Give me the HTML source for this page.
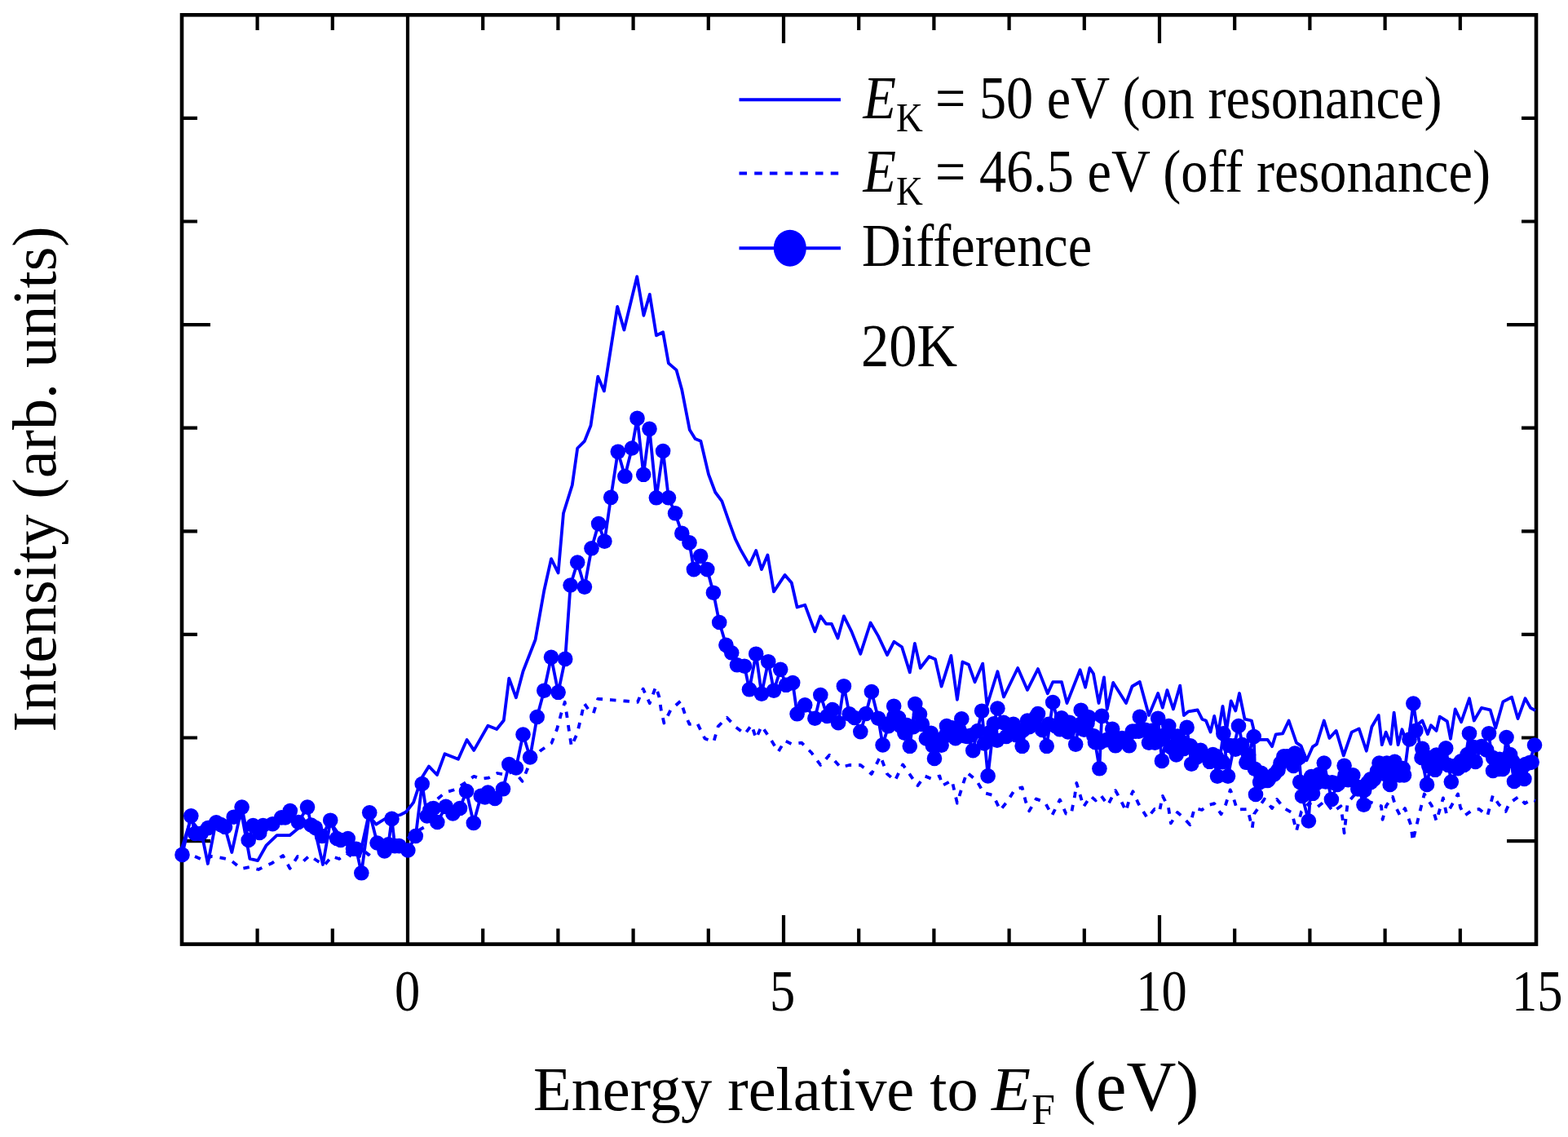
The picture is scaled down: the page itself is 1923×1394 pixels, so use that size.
<!DOCTYPE html>
<html><head><meta charset="utf-8"><title>Resonant photoemission spectra</title>
<style>html,body{margin:0;padding:0;background:#fff;}svg{display:block;}
text{font-family:'Liberation Serif', 'Times New Roman', serif;fill:#000;}</style></head>
<body><svg width="1923" height="1394" viewBox="0 0 1923 1394">
<rect width="1923" height="1394" fill="#fff"/>
<path d="M315.6 1157.6V1138.5M315.6 18.3V37.0M407.8 1157.6V1138.5M407.8 18.3V37.0M592.2 1157.6V1138.5M592.2 18.3V37.0M684.4 1157.6V1138.5M684.4 18.3V37.0M776.6 1157.6V1138.5M776.6 18.3V37.0M868.8 1157.6V1138.5M868.8 18.3V37.0M961.0 1157.6V1122.0M961.0 18.3V53.0M1053.2 1157.6V1138.5M1053.2 18.3V37.0M1145.4 1157.6V1138.5M1145.4 18.3V37.0M1237.6 1157.6V1138.5M1237.6 18.3V37.0M1329.8 1157.6V1138.5M1329.8 18.3V37.0M1422.0 1157.6V1122.0M1422.0 18.3V53.0M1514.2 1157.6V1138.5M1514.2 18.3V37.0M1606.4 1157.6V1138.5M1606.4 18.3V37.0M1698.6 1157.6V1138.5M1698.6 18.3V37.0M1790.8 1157.6V1138.5M1790.8 18.3V37.0M223.0 144.9H242.0M1884.0 144.9H1866.0M223.0 271.5H242.0M1884.0 271.5H1866.0M223.0 398.1H258.0M1884.0 398.1H1848.0M223.0 524.7H242.0M1884.0 524.7H1866.0M223.0 651.3H242.0M1884.0 651.3H1866.0M223.0 777.9H242.0M1884.0 777.9H1866.0M223.0 904.5H242.0M1884.0 904.5H1866.0M223.0 1031.1H258.0M1884.0 1031.1H1848.0" stroke="#000" stroke-width="4.2" fill="none"/>
<line x1="500.0" y1="18.3" x2="500.0" y2="1157.6" stroke="#000" stroke-width="4.2"/>
<rect x="223.0" y="18.3" width="1661.0" height="1139.3" fill="none" stroke="#000" stroke-width="4.6"/>
<g>
<polyline points="223.0,1050.0 232.0,1052.0 239.0,1050.0 250.0,1055.0 259.0,1050.0 268.0,1051.0 282.0,1054.0 296.0,1065.0 306.0,1063.0 317.0,1066.0 325.0,1062.0 333.0,1058.6 347.0,1049.0 355.6,1064.8 365.0,1050.0 372.0,1056.0 379.5,1049.0 390.0,1056.0 398.0,1060.6 407.0,1050.0 416.0,1053.0 425.0,1046.0 434.0,1052.0 443.0,1040.0 452.0,1048.0 461.0,1035.0 470.0,1042.0 480.0,1036.0 490.0,1030.0 500.0,1028.0 510.0,1020.0 521.0,1013.8 527.0,985.0 536.0,980.0 546.0,971.6 558.0,968.0 570.0,960.0 581.2,951.8 590.0,955.0 599.3,953.6 610.0,948.0 620.0,950.0 630.0,945.0 640.6,957.9 650.0,935.0 663.0,920.3 676.5,910.9 683.3,893.3 688.0,875.7 692.7,860.8 695.4,878.4 698.1,897.4 700.8,914.9 707.6,900.0 712.3,881.1 716.4,862.2 723.8,873.0 727.9,874.4 733.3,856.8 749.5,858.1 767.1,859.5 782.0,860.8 788.7,844.6 796.8,862.2 804.3,841.9 808.3,854.1 811.0,871.7 814.4,886.5 822.5,870.3 834.7,859.5 840.1,875.7 845.5,887.9 855.0,886.5 864.4,905.5 875.3,909.5 880.7,890.6 891.5,879.8 902.7,891.6 913.6,899.8 921.8,888.9 927.2,905.3 934.0,890.3 943.6,903.9 954.5,921.6 962.6,908.0 970.8,912.1 983.1,910.7 995.4,923.0 1006.3,938.0 1017.2,925.7 1030.8,940.7 1041.7,938.0 1055.3,938.0 1068.9,948.9 1079.8,927.1 1088.0,948.9 1097.6,957.0 1107.2,937.4 1114.8,948.2 1125.5,963.2 1134.1,951.4 1143.0,955.0 1152.4,951.4 1155.6,963.2 1167.5,956.8 1173.9,984.7 1180.4,963.2 1185.8,947.1 1197.6,956.8 1206.2,971.8 1218.1,975.1 1226.7,993.4 1235.3,982.6 1245.0,967.5 1253.6,965.4 1257.9,982.6 1262.2,994.4 1270.8,979.4 1281.6,983.7 1290.2,999.8 1299.9,980.4 1307.4,997.7 1313.8,997.7 1318.2,975.1 1320.3,960.0 1328.9,989.0 1337.5,976.1 1343.7,981.4 1350.0,975.0 1358.7,987.0 1368.0,969.3 1374.0,980.0 1381.0,994.5 1385.0,980.0 1389.4,970.2 1396.0,985.0 1407.1,1002.9 1416.0,992.0 1422.0,995.0 1425.8,975.8 1433.0,990.0 1436.0,1009.4 1444.0,996.0 1452.0,1003.0 1459.4,1011.3 1465.0,990.8 1474.0,993.0 1482.0,987.0 1489.2,985.2 1497.6,998.2 1503.0,987.0 1508.8,968.4 1512.0,976.0 1517.2,992.6 1530.0,992.0 1535.8,1015.0 1538.0,998.0 1550.8,979.6 1560.0,991.0 1566.0,980.0 1575.0,991.0 1584.3,996.4 1590.0,1018.7 1596.0,995.0 1605.0,985.0 1615.0,990.0 1625.0,982.0 1635.0,995.0 1644.5,988.3 1646.9,1006.5 1648.6,1021.3 1652.7,984.2 1667.0,968.0 1675.8,981.7 1685.0,985.0 1694.0,988.3 1695.6,1004.8 1700.0,988.0 1708.0,976.8 1712.0,990.0 1717.1,999.9 1723.0,991.0 1730.3,1011.4 1732.7,1031.2 1741.8,993.3 1746.8,973.5 1756.0,988.0 1761.6,1006.5 1769.9,978.4 1774.0,998.2 1780.0,988.0 1788.0,973.5 1791.0,990.0 1796.3,999.9 1806.0,993.0 1814.0,992.0 1824.3,999.9 1830.9,975.1 1838.0,986.0 1846.6,994.9 1851.0,985.0 1862.3,976.8 1870.0,985.0 1878.8,980.1 1883.0,982.0" fill="none" stroke="#0000ff" stroke-width="3.8" stroke-dasharray="7.5 9" stroke-linejoin="round"/>
<polyline points="223.0,1040.0 233.8,1005.0 247.4,1022.0 254.9,1059.0 264.7,1008.0 276.0,1015.0 284.3,1045.0 295.6,994.0 306.4,1052.8 316.1,1055.1 326.7,1036.3 339.5,1024.2 355.3,1024.2 373.4,1009.2 386.0,1017.0 396.0,1060.0 405.0,1008.0 417.0,1025.0 430.0,1030.0 441.0,1050.0 452.0,1000.0 461.4,1010.7 472.0,1004.0 480.0,1001.7 491.0,999.0 498.0,995.5 507.1,983.8 517.0,954.0 526.0,939.5 536.0,950.0 545.5,924.2 562.0,930.7 572.6,907.0 581.2,919.9 598.4,889.7 609.2,894.0 617.8,883.3 624.3,831.6 632.9,855.3 641.5,823.0 656.6,784.2 667.3,724.0 676.0,685.2 684.6,702.4 691.0,629.2 701.8,594.7 708.2,549.5 716.9,540.9 724.5,521.7 733.3,461.7 740.9,479.4 757.2,375.9 765.4,404.5 781.2,339.1 789.4,386.8 796.8,360.9 804.9,411.3 813.1,407.2 819.9,445.4 829.5,453.6 836.3,478.1 845.8,527.1 852.6,538.0 859.4,540.8 869.0,581.6 877.2,603.5 885.3,614.4 894.5,640.9 901.7,660.7 908.1,673.6 919.0,692.7 927.2,675.0 934.0,698.1 941.4,680.4 949.0,725.4 962.6,704.9 970.8,714.5 977.6,744.5 987.2,741.7 999.4,774.4 1006.3,755.4 1013.1,764.9 1019.9,764.9 1027.5,782.6 1034.9,755.4 1044.4,774.4 1055.3,801.7 1067.6,763.5 1077.1,779.9 1088.0,803.0 1096.5,786.7 1106.1,793.2 1115.8,824.4 1121.9,788.9 1128.7,819.0 1139.5,805.0 1147.0,808.2 1154.6,841.6 1166.4,803.9 1173.9,857.8 1180.4,811.5 1187.9,814.7 1195.5,836.2 1205.2,813.6 1210.5,865.0 1223.4,823.3 1231.0,854.5 1248.2,819.0 1260.0,845.9 1273.0,820.1 1284.8,850.2 1291.2,836.2 1302.0,836.2 1308.5,862.1 1324.6,821.2 1331.1,842.7 1336.4,819.0 1341.0,826.0 1347.5,862.0 1354.0,830.4 1357.7,869.5 1365.2,836.9 1381.0,862.1 1388.5,841.5 1397.8,836.0 1409.0,877.0 1420.2,850.0 1425.8,867.7 1431.4,846.2 1438.9,869.5 1447.2,840.6 1451.9,877.0 1457.5,872.3 1468.7,870.5 1474.3,881.7 1479.0,883.5 1484.6,897.5 1489.2,877.9 1493.9,899.4 1499.5,865.8 1504.1,895.6 1509.7,859.3 1515.3,871.4 1520.0,850.0 1526.5,881.7 1534.9,883.5 1540.5,906.8 1554.5,906.8 1560.1,915.2 1564.7,900.3 1573.1,899.4 1580.6,883.5 1589.9,910.6 1595.5,914.3 1602.4,932.2 1609.8,915.7 1614.8,912.4 1623.8,883.5 1630.4,905.0 1638.7,895.9 1647.8,926.4 1657.7,897.6 1666.7,893.4 1675.8,920.7 1682.4,891.0 1690.7,876.9 1694.8,913.2 1699.7,897.6 1705.5,912.4 1709.6,873.6 1714.6,913.2 1719.5,894.3 1725.3,909.9 1732.0,897.0 1739.3,887.7 1744.3,883.5 1750.9,900.0 1755.0,889.3 1761.6,895.9 1765.7,878.6 1774.8,884.4 1779.0,905.8 1784.7,869.5 1792.1,885.2 1802.0,856.3 1807.8,883.5 1816.9,867.9 1827.6,870.3 1834.2,892.6 1843.3,860.4 1854.0,854.7 1861.5,881.1 1870.5,856.3 1877.1,867.9 1883.0,871.2" fill="none" stroke="#0000ff" stroke-width="3.8" stroke-linejoin="round"/>
<polyline points="223.5,1047.9 234.3,1000.3 239.3,1021.9 246.4,1021.9 255.1,1015.1 265.2,1008.4 270.9,1011.1 276.0,1013.8 286.7,1001.7 296.6,989.6 304.7,1030.0 310.4,1012.0 318.3,1021.0 322.6,1012.0 334.3,1010.2 345.2,1002.4 349.9,1002.4 355.8,994.0 366.0,1008.0 377.0,989.6 381.5,1011.5 386.8,1014.9 395.0,1025.0 405.2,1005.7 413.1,1028.0 417.8,1030.0 426.7,1028.0 433.0,1040.7 436.8,1040.7 443.3,1070.3 453.2,996.3 462.6,1033.5 471.6,1043.4 476.3,1035.3 480.5,1003.9 484.2,1037.1 489.5,1037.1 500.3,1042.5 509.8,1025.0 517.7,961.0 523.7,1000.5 527.4,993.1 531.6,991.0 536.3,1008.0 546.8,988.8 555.4,997.4 564.0,991.0 572.0,970.0 580.8,1009.0 589.8,975.9 594.8,977.5 598.4,971.6 607.0,979.0 617.0,967.3 624.3,937.1 632.9,941.4 641.5,900.5 650.1,928.5 658.7,879.0 667.3,846.7 676.0,805.8 684.6,848.8 693.2,807.9 699.6,717.5 708.2,689.5 716.9,719.6 725.5,672.3 734.1,642.1 741.4,663.7 749.2,609.8 757.8,553.8 766.4,584.0 775.0,549.5 781.5,512.9 789.2,581.8 796.5,525.8 804.9,610.3 813.1,553.0 819.9,610.3 828.1,629.3 836.3,653.9 845.5,665.4 850.9,698.1 859.1,681.8 867.3,698.1 874.9,726.7 882.2,763.0 890.4,790.8 897.2,800.3 904.0,815.3 913.0,816.7 919.0,845.3 927.2,801.7 934.0,850.7 942.2,811.2 949.0,846.7 957.2,820.8 964.0,839.8 972.2,837.1 977.6,875.3 987.2,864.4 999.4,880.7 1006.3,852.1 1014.4,878.0 1021.0,870.0 1028.1,886.2 1034.9,841.2 1041.7,875.3 1048.0,880.0 1055.3,897.1 1062.0,875.0 1068.9,848.0 1077.1,880.7 1082.6,913.4 1089.4,890.3 1096.2,865.7 1102.0,880.0 1109.4,898.7 1115.8,914.8 1122.3,863.1 1130.9,887.9 1141.7,898.7 1146.0,929.9 1154.6,913.7 1161.0,890.0 1171.8,905.1 1179.3,881.4 1186.9,903.0 1193.3,920.2 1204.1,871.7 1211.6,951.4 1218.9,887.4 1223.4,868.5 1234.2,903.0 1242.8,887.9 1253.6,914.8 1260.0,883.6 1266.3,883.6 1273.0,875.0 1283.7,914.8 1291.2,861.0 1299.9,894.3 1305.8,890.0 1311.7,885.7 1319.2,912.6 1325.7,870.7 1329.5,894.6 1335.4,879.3 1343.0,910.0 1348.4,942.3 1351.2,877.9 1364.2,893.8 1368.0,914.3 1376.0,905.0 1384.8,914.3 1392.7,896.6 1397.8,878.9 1409.0,910.6 1416.4,910.6 1420.2,880.7 1424.9,932.9 1433.3,890.0 1442.6,925.5 1448.0,908.7 1455.6,891.9 1461.2,936.7 1472.4,919.9 1483.0,930.0 1487.5,925.0 1493.0,951.6 1500.4,899.4 1506.0,951.6 1513.5,914.3 1519.0,890.0 1528.4,934.8 1537.7,903.1 1540.0,974.0 1545.2,959.0 1550.7,957.0 1556.0,955.0 1567.5,944.1 1574.4,927.3 1578.7,927.3 1582.3,928.9 1588.0,923.6 1593.3,928.9 1597.0,976.0 1604.9,1006.5 1608.2,952.0 1615.0,960.0 1623.8,935.5 1632.9,980.1 1640.0,962.0 1648.6,938.8 1653.4,956.2 1659.3,950.4 1666.0,965.0 1672.5,986.7 1677.1,960.1 1680.8,955.3 1685.0,955.3 1691.5,935.5 1700.8,935.5 1704.7,961.9 1710.5,933.9 1716.6,950.4 1722.0,950.4 1733.3,862.5 1743.5,928.9 1750.0,961.9 1756.1,928.9 1761.6,925.6 1773.2,917.4 1779.8,958.6 1788.0,942.1 1795.6,938.0 1802.0,899.2 1809.5,933.9 1817.0,915.0 1826.0,899.2 1831.0,945.0 1838.0,943.0 1843.0,943.0 1847.5,904.0 1852.0,925.0 1857.0,958.0 1863.0,945.0 1869.4,955.0 1876.0,935.0 1882.0,913.5" fill="none" stroke="#0000ff" stroke-width="3.8" stroke-linejoin="round"/>
<g fill="#0000ff"><circle cx="223.5" cy="1047.9" r="9.3"/><circle cx="234.3" cy="1000.3" r="9.3"/><circle cx="239.3" cy="1021.9" r="9.3"/><circle cx="246.4" cy="1021.9" r="9.3"/><circle cx="255.1" cy="1015.1" r="9.3"/><circle cx="265.2" cy="1008.4" r="9.3"/><circle cx="270.9" cy="1011.1" r="9.3"/><circle cx="276.0" cy="1013.8" r="9.3"/><circle cx="286.7" cy="1001.7" r="9.3"/><circle cx="296.6" cy="989.6" r="9.3"/><circle cx="304.7" cy="1030.0" r="9.3"/><circle cx="310.4" cy="1012.0" r="9.3"/><circle cx="318.3" cy="1021.0" r="9.3"/><circle cx="322.6" cy="1012.0" r="9.3"/><circle cx="334.3" cy="1010.2" r="9.3"/><circle cx="345.2" cy="1002.4" r="9.3"/><circle cx="349.9" cy="1002.4" r="9.3"/><circle cx="355.8" cy="994.0" r="9.3"/><circle cx="366.0" cy="1008.0" r="9.3"/><circle cx="377.0" cy="989.6" r="9.3"/><circle cx="381.5" cy="1011.5" r="9.3"/><circle cx="386.8" cy="1014.9" r="9.3"/><circle cx="395.0" cy="1025.0" r="9.3"/><circle cx="405.2" cy="1005.7" r="9.3"/><circle cx="413.1" cy="1028.0" r="9.3"/><circle cx="417.8" cy="1030.0" r="9.3"/><circle cx="426.7" cy="1028.0" r="9.3"/><circle cx="433.0" cy="1040.7" r="9.3"/><circle cx="436.8" cy="1040.7" r="9.3"/><circle cx="443.3" cy="1070.3" r="9.3"/><circle cx="453.2" cy="996.3" r="9.3"/><circle cx="462.6" cy="1033.5" r="9.3"/><circle cx="471.6" cy="1043.4" r="9.3"/><circle cx="476.3" cy="1035.3" r="9.3"/><circle cx="480.5" cy="1003.9" r="9.3"/><circle cx="484.2" cy="1037.1" r="9.3"/><circle cx="489.5" cy="1037.1" r="9.3"/><circle cx="500.3" cy="1042.5" r="9.3"/><circle cx="509.8" cy="1025.0" r="9.3"/><circle cx="517.7" cy="961.0" r="9.3"/><circle cx="523.7" cy="1000.5" r="9.3"/><circle cx="527.4" cy="993.1" r="9.3"/><circle cx="531.6" cy="991.0" r="9.3"/><circle cx="536.3" cy="1008.0" r="9.3"/><circle cx="546.8" cy="988.8" r="9.3"/><circle cx="555.4" cy="997.4" r="9.3"/><circle cx="564.0" cy="991.0" r="9.3"/><circle cx="572.0" cy="970.0" r="9.3"/><circle cx="580.8" cy="1009.0" r="9.3"/><circle cx="589.8" cy="975.9" r="9.3"/><circle cx="594.8" cy="977.5" r="9.3"/><circle cx="598.4" cy="971.6" r="9.3"/><circle cx="607.0" cy="979.0" r="9.3"/><circle cx="617.0" cy="967.3" r="9.3"/><circle cx="624.3" cy="937.1" r="9.3"/><circle cx="632.9" cy="941.4" r="9.3"/><circle cx="641.5" cy="900.5" r="9.3"/><circle cx="650.1" cy="928.5" r="9.3"/><circle cx="658.7" cy="879.0" r="9.3"/><circle cx="667.3" cy="846.7" r="9.3"/><circle cx="676.0" cy="805.8" r="9.3"/><circle cx="684.6" cy="848.8" r="9.3"/><circle cx="693.2" cy="807.9" r="9.3"/><circle cx="699.6" cy="717.5" r="9.3"/><circle cx="708.2" cy="689.5" r="9.3"/><circle cx="716.9" cy="719.6" r="9.3"/><circle cx="725.5" cy="672.3" r="9.3"/><circle cx="734.1" cy="642.1" r="9.3"/><circle cx="741.4" cy="663.7" r="9.3"/><circle cx="749.2" cy="609.8" r="9.3"/><circle cx="757.8" cy="553.8" r="9.3"/><circle cx="766.4" cy="584.0" r="9.3"/><circle cx="775.0" cy="549.5" r="9.3"/><circle cx="781.5" cy="512.9" r="9.3"/><circle cx="789.2" cy="581.8" r="9.3"/><circle cx="796.5" cy="525.8" r="9.3"/><circle cx="804.9" cy="610.3" r="9.3"/><circle cx="813.1" cy="553.0" r="9.3"/><circle cx="819.9" cy="610.3" r="9.3"/><circle cx="828.1" cy="629.3" r="9.3"/><circle cx="836.3" cy="653.9" r="9.3"/><circle cx="845.5" cy="665.4" r="9.3"/><circle cx="850.9" cy="698.1" r="9.3"/><circle cx="859.1" cy="681.8" r="9.3"/><circle cx="867.3" cy="698.1" r="9.3"/><circle cx="874.9" cy="726.7" r="9.3"/><circle cx="882.2" cy="763.0" r="9.3"/><circle cx="890.4" cy="790.8" r="9.3"/><circle cx="897.2" cy="800.3" r="9.3"/><circle cx="904.0" cy="815.3" r="9.3"/><circle cx="913.0" cy="816.7" r="9.3"/><circle cx="919.0" cy="845.3" r="9.3"/><circle cx="927.2" cy="801.7" r="9.3"/><circle cx="934.0" cy="850.7" r="9.3"/><circle cx="942.2" cy="811.2" r="9.3"/><circle cx="949.0" cy="846.7" r="9.3"/><circle cx="957.2" cy="820.8" r="9.3"/><circle cx="964.0" cy="839.8" r="9.3"/><circle cx="972.2" cy="837.1" r="9.3"/><circle cx="977.6" cy="875.3" r="9.3"/><circle cx="987.2" cy="864.4" r="9.3"/><circle cx="999.4" cy="880.7" r="9.3"/><circle cx="1006.3" cy="852.1" r="9.3"/><circle cx="1014.4" cy="878.0" r="9.3"/><circle cx="1021.0" cy="870.0" r="9.3"/><circle cx="1028.1" cy="886.2" r="9.3"/><circle cx="1034.9" cy="841.2" r="9.3"/><circle cx="1041.7" cy="875.3" r="9.3"/><circle cx="1048.0" cy="880.0" r="9.3"/><circle cx="1055.3" cy="897.1" r="9.3"/><circle cx="1062.0" cy="875.0" r="9.3"/><circle cx="1068.9" cy="848.0" r="9.3"/><circle cx="1077.1" cy="880.7" r="9.3"/><circle cx="1082.6" cy="913.4" r="9.3"/><circle cx="1089.4" cy="890.3" r="9.3"/><circle cx="1096.2" cy="865.7" r="9.3"/><circle cx="1102.0" cy="880.0" r="9.3"/><circle cx="1109.4" cy="898.7" r="9.3"/><circle cx="1115.8" cy="914.8" r="9.3"/><circle cx="1122.3" cy="863.1" r="9.3"/><circle cx="1130.9" cy="887.9" r="9.3"/><circle cx="1141.7" cy="898.7" r="9.3"/><circle cx="1146.0" cy="929.9" r="9.3"/><circle cx="1154.6" cy="913.7" r="9.3"/><circle cx="1161.0" cy="890.0" r="9.3"/><circle cx="1171.8" cy="905.1" r="9.3"/><circle cx="1179.3" cy="881.4" r="9.3"/><circle cx="1186.9" cy="903.0" r="9.3"/><circle cx="1193.3" cy="920.2" r="9.3"/><circle cx="1204.1" cy="871.7" r="9.3"/><circle cx="1211.6" cy="951.4" r="9.3"/><circle cx="1218.9" cy="887.4" r="9.3"/><circle cx="1223.4" cy="868.5" r="9.3"/><circle cx="1234.2" cy="903.0" r="9.3"/><circle cx="1242.8" cy="887.9" r="9.3"/><circle cx="1253.6" cy="914.8" r="9.3"/><circle cx="1260.0" cy="883.6" r="9.3"/><circle cx="1266.3" cy="883.6" r="9.3"/><circle cx="1273.0" cy="875.0" r="9.3"/><circle cx="1283.7" cy="914.8" r="9.3"/><circle cx="1291.2" cy="861.0" r="9.3"/><circle cx="1299.9" cy="894.3" r="9.3"/><circle cx="1305.8" cy="890.0" r="9.3"/><circle cx="1311.7" cy="885.7" r="9.3"/><circle cx="1319.2" cy="912.6" r="9.3"/><circle cx="1325.7" cy="870.7" r="9.3"/><circle cx="1329.5" cy="894.6" r="9.3"/><circle cx="1335.4" cy="879.3" r="9.3"/><circle cx="1343.0" cy="910.0" r="9.3"/><circle cx="1348.4" cy="942.3" r="9.3"/><circle cx="1351.2" cy="877.9" r="9.3"/><circle cx="1364.2" cy="893.8" r="9.3"/><circle cx="1368.0" cy="914.3" r="9.3"/><circle cx="1376.0" cy="905.0" r="9.3"/><circle cx="1384.8" cy="914.3" r="9.3"/><circle cx="1392.7" cy="896.6" r="9.3"/><circle cx="1397.8" cy="878.9" r="9.3"/><circle cx="1409.0" cy="910.6" r="9.3"/><circle cx="1416.4" cy="910.6" r="9.3"/><circle cx="1420.2" cy="880.7" r="9.3"/><circle cx="1424.9" cy="932.9" r="9.3"/><circle cx="1433.3" cy="890.0" r="9.3"/><circle cx="1442.6" cy="925.5" r="9.3"/><circle cx="1448.0" cy="908.7" r="9.3"/><circle cx="1455.6" cy="891.9" r="9.3"/><circle cx="1461.2" cy="936.7" r="9.3"/><circle cx="1472.4" cy="919.9" r="9.3"/><circle cx="1483.0" cy="930.0" r="9.3"/><circle cx="1487.5" cy="925.0" r="9.3"/><circle cx="1493.0" cy="951.6" r="9.3"/><circle cx="1500.4" cy="899.4" r="9.3"/><circle cx="1506.0" cy="951.6" r="9.3"/><circle cx="1513.5" cy="914.3" r="9.3"/><circle cx="1519.0" cy="890.0" r="9.3"/><circle cx="1528.4" cy="934.8" r="9.3"/><circle cx="1537.7" cy="903.1" r="9.3"/><circle cx="1540.0" cy="974.0" r="9.3"/><circle cx="1545.2" cy="959.0" r="9.3"/><circle cx="1550.7" cy="957.0" r="9.3"/><circle cx="1556.0" cy="955.0" r="9.3"/><circle cx="1567.5" cy="944.1" r="9.3"/><circle cx="1574.4" cy="927.3" r="9.3"/><circle cx="1578.7" cy="927.3" r="9.3"/><circle cx="1582.3" cy="928.9" r="9.3"/><circle cx="1588.0" cy="923.6" r="9.3"/><circle cx="1593.3" cy="928.9" r="9.3"/><circle cx="1597.0" cy="976.0" r="9.3"/><circle cx="1604.9" cy="1006.5" r="9.3"/><circle cx="1608.2" cy="952.0" r="9.3"/><circle cx="1615.0" cy="960.0" r="9.3"/><circle cx="1623.8" cy="935.5" r="9.3"/><circle cx="1632.9" cy="980.1" r="9.3"/><circle cx="1640.0" cy="962.0" r="9.3"/><circle cx="1648.6" cy="938.8" r="9.3"/><circle cx="1653.4" cy="956.2" r="9.3"/><circle cx="1659.3" cy="950.4" r="9.3"/><circle cx="1666.0" cy="965.0" r="9.3"/><circle cx="1672.5" cy="986.7" r="9.3"/><circle cx="1677.1" cy="960.1" r="9.3"/><circle cx="1680.8" cy="955.3" r="9.3"/><circle cx="1685.0" cy="955.3" r="9.3"/><circle cx="1691.5" cy="935.5" r="9.3"/><circle cx="1700.8" cy="935.5" r="9.3"/><circle cx="1704.7" cy="961.9" r="9.3"/><circle cx="1710.5" cy="933.9" r="9.3"/><circle cx="1716.6" cy="950.4" r="9.3"/><circle cx="1722.0" cy="950.4" r="9.3"/><circle cx="1733.3" cy="862.5" r="9.3"/><circle cx="1743.5" cy="928.9" r="9.3"/><circle cx="1750.0" cy="961.9" r="9.3"/><circle cx="1756.1" cy="928.9" r="9.3"/><circle cx="1761.6" cy="925.6" r="9.3"/><circle cx="1773.2" cy="917.4" r="9.3"/><circle cx="1779.8" cy="958.6" r="9.3"/><circle cx="1788.0" cy="942.1" r="9.3"/><circle cx="1795.6" cy="938.0" r="9.3"/><circle cx="1802.0" cy="899.2" r="9.3"/><circle cx="1809.5" cy="933.9" r="9.3"/><circle cx="1817.0" cy="915.0" r="9.3"/><circle cx="1826.0" cy="899.2" r="9.3"/><circle cx="1831.0" cy="945.0" r="9.3"/><circle cx="1838.0" cy="943.0" r="9.3"/><circle cx="1843.0" cy="943.0" r="9.3"/><circle cx="1847.5" cy="904.0" r="9.3"/><circle cx="1852.0" cy="925.0" r="9.3"/><circle cx="1857.0" cy="958.0" r="9.3"/><circle cx="1863.0" cy="945.0" r="9.3"/><circle cx="1869.4" cy="955.0" r="9.3"/><circle cx="1876.0" cy="935.0" r="9.3"/><circle cx="1882.0" cy="913.5" r="9.3"/><circle cx="1088.5" cy="887.5" r="9.3"/><circle cx="1096.4" cy="878.7" r="9.3"/><circle cx="1104.3" cy="889.8" r="9.3"/><circle cx="1112.2" cy="889.1" r="9.3"/><circle cx="1120.1" cy="891.1" r="9.3"/><circle cx="1128.0" cy="875.5" r="9.3"/><circle cx="1135.9" cy="905.5" r="9.3"/><circle cx="1143.8" cy="914.1" r="9.3"/><circle cx="1151.7" cy="908.1" r="9.3"/><circle cx="1159.6" cy="901.9" r="9.3"/><circle cx="1167.5" cy="892.2" r="9.3"/><circle cx="1175.4" cy="896.5" r="9.3"/><circle cx="1183.3" cy="902.4" r="9.3"/><circle cx="1191.2" cy="901.5" r="9.3"/><circle cx="1199.1" cy="896.0" r="9.3"/><circle cx="1207.0" cy="911.5" r="9.3"/><circle cx="1215.0" cy="897.2" r="9.3"/><circle cx="1222.9" cy="907.6" r="9.3"/><circle cx="1230.8" cy="885.8" r="9.3"/><circle cx="1238.7" cy="895.5" r="9.3"/><circle cx="1246.6" cy="901.3" r="9.3"/><circle cx="1254.5" cy="895.4" r="9.3"/><circle cx="1262.4" cy="891.1" r="9.3"/><circle cx="1270.3" cy="879.3" r="9.3"/><circle cx="1278.2" cy="894.9" r="9.3"/><circle cx="1286.1" cy="887.9" r="9.3"/><circle cx="1294.0" cy="890.0" r="9.3"/><circle cx="1301.9" cy="880.3" r="9.3"/><circle cx="1309.8" cy="897.5" r="9.3"/><circle cx="1317.7" cy="889.7" r="9.3"/><circle cx="1325.6" cy="887.5" r="9.3"/><circle cx="1333.5" cy="886.7" r="9.3"/><circle cx="1341.4" cy="902.4" r="9.3"/><circle cx="1349.3" cy="910.1" r="9.3"/><circle cx="1357.2" cy="907.1" r="9.3"/><circle cx="1365.1" cy="904.4" r="9.3"/><circle cx="1373.0" cy="906.8" r="9.3"/><circle cx="1380.9" cy="909.6" r="9.3"/><circle cx="1388.8" cy="896.6" r="9.3"/><circle cx="1396.7" cy="896.6" r="9.3"/><circle cx="1404.6" cy="894.8" r="9.3"/><circle cx="1412.5" cy="895.7" r="9.3"/><circle cx="1420.4" cy="908.1" r="9.3"/><circle cx="1428.3" cy="901.2" r="9.3"/><circle cx="1436.2" cy="916.1" r="9.3"/><circle cx="1444.1" cy="902.5" r="9.3"/><circle cx="1452.0" cy="918.0" r="9.3"/><circle cx="1459.9" cy="914.3" r="9.3"/><circle cx="1467.8" cy="928.3" r="9.3"/><circle cx="1475.7" cy="925.0" r="9.3"/><circle cx="1483.6" cy="933.8" r="9.3"/><circle cx="1491.5" cy="927.0" r="9.3"/><circle cx="1499.4" cy="934.2" r="9.3"/><circle cx="1507.3" cy="913.8" r="9.3"/><circle cx="1515.2" cy="918.6" r="9.3"/><circle cx="1523.1" cy="913.0" r="9.3"/><circle cx="1531.0" cy="925.5" r="9.3"/><circle cx="1538.9" cy="942.7" r="9.3"/><circle cx="1546.8" cy="947.8" r="9.3"/><circle cx="1554.7" cy="957.0" r="9.3"/><circle cx="1562.6" cy="949.5" r="9.3"/><circle cx="1570.5" cy="935.7" r="9.3"/><circle cx="1578.4" cy="931.7" r="9.3"/><circle cx="1586.3" cy="939.0" r="9.3"/><circle cx="1594.2" cy="958.8" r="9.3"/><circle cx="1602.1" cy="965.9" r="9.3"/><circle cx="1610.0" cy="972.8" r="9.3"/><circle cx="1617.9" cy="949.2" r="9.3"/><circle cx="1625.8" cy="958.5" r="9.3"/><circle cx="1633.7" cy="959.2" r="9.3"/><circle cx="1641.6" cy="960.3" r="9.3"/><circle cx="1649.5" cy="950.4" r="9.3"/><circle cx="1657.4" cy="951.4" r="9.3"/><circle cx="1665.3" cy="967.4" r="9.3"/><circle cx="1673.2" cy="969.0" r="9.3"/><circle cx="1681.1" cy="959.2" r="9.3"/><circle cx="1689.0" cy="945.4" r="9.3"/><circle cx="1696.9" cy="948.7" r="9.3"/><circle cx="1704.8" cy="947.9" r="9.3"/><circle cx="1712.7" cy="948.7" r="9.3"/><circle cx="1720.6" cy="942.1" r="9.3"/><circle cx="1728.5" cy="906.5" r="9.3"/><circle cx="1736.4" cy="895.7" r="9.3"/><circle cx="1744.3" cy="917.8" r="9.3"/><circle cx="1752.2" cy="938.8" r="9.3"/><circle cx="1760.1" cy="943.8" r="9.3"/><circle cx="1768.0" cy="933.9" r="9.3"/><circle cx="1775.9" cy="938.0" r="9.3"/><circle cx="1783.8" cy="939.4" r="9.3"/><circle cx="1791.7" cy="933.3" r="9.3"/><circle cx="1799.6" cy="925.1" r="9.3"/><circle cx="1807.5" cy="916.0" r="9.3"/><circle cx="1815.4" cy="916.0" r="9.3"/><circle cx="1823.3" cy="919.7" r="9.3"/><circle cx="1831.2" cy="929.1" r="9.3"/><circle cx="1839.1" cy="930.7" r="9.3"/><circle cx="1847.0" cy="932.5" r="9.3"/><circle cx="1854.9" cy="933.0" r="9.3"/><circle cx="1862.8" cy="945.8" r="9.3"/><circle cx="1870.7" cy="937.1" r="9.3"/><circle cx="1878.6" cy="934.5" r="9.3"/></g>
</g>
<line x1="906.5" y1="122.3" x2="1031" y2="122.3" stroke="#0000ff" stroke-width="4"/>
<line x1="906.5" y1="212.5" x2="1031" y2="212.5" stroke="#0000ff" stroke-width="4" stroke-dasharray="9.5 9.2"/>
<line x1="906.5" y1="304.2" x2="1031" y2="304.2" stroke="#0000ff" stroke-width="4"/>
<ellipse cx="968.8" cy="304.2" rx="20" ry="22.5" fill="#0000ff"/>
<text transform="translate(1058.5,144.5) scale(0.902,1)" font-size="73.5" text-anchor="start" font-style="italic" >E</text>
<text transform="translate(1099.0,160.7) scale(0.902,1)" font-size="50.5" text-anchor="start" >K</text>
<text transform="translate(1147.0,144.5) scale(0.902,1)" font-size="73.5" text-anchor="start" >= 50 eV (on resonance)</text>
<text transform="translate(1058.5,235.0) scale(0.902,1)" font-size="73.5" text-anchor="start" font-style="italic" >E</text>
<text transform="translate(1099.0,251.2) scale(0.902,1)" font-size="50.5" text-anchor="start" >K</text>
<text transform="translate(1147.0,235.0) scale(0.902,1)" font-size="73.5" text-anchor="start" >= 46.5 eV (off resonance)</text>
<text transform="translate(1057.0,325.6) scale(0.902,1)" font-size="73.5" text-anchor="start" >Difference</text>
<text transform="translate(1056.0,449.0) scale(0.915,1)" font-size="75" text-anchor="start" >20K</text>
<text transform="translate(499.5,1238.5) scale(0.88,1)" font-size="71" text-anchor="middle" >0</text>
<text transform="translate(959.6,1238.5) scale(0.88,1)" font-size="71" text-anchor="middle" >5</text>
<text transform="translate(1424.4,1238.5) scale(0.88,1)" font-size="71" text-anchor="middle" >10</text>
<text transform="translate(1885.2,1238.5) scale(0.88,1)" font-size="71" text-anchor="middle" >15</text>
<text transform="translate(654.0,1360.5) scale(0.992,1)" font-size="77" text-anchor="start" >Energy relative to</text>
<text transform="translate(1216.0,1360.5) scale(1.02,1)" font-size="77" text-anchor="start" font-style="italic" >E</text>
<text transform="translate(1265.0,1377.5) scale(1.0,1)" font-size="52" text-anchor="start" >F</text>
<text transform="translate(1316.0,1360.5) scale(0.98,1)" font-size="86" text-anchor="start" >(eV)</text>
<text transform="translate(68,897.5) rotate(-90) scale(0.99,1)" font-size="77">Intensity (arb. units)</text>
</svg></body></html>
